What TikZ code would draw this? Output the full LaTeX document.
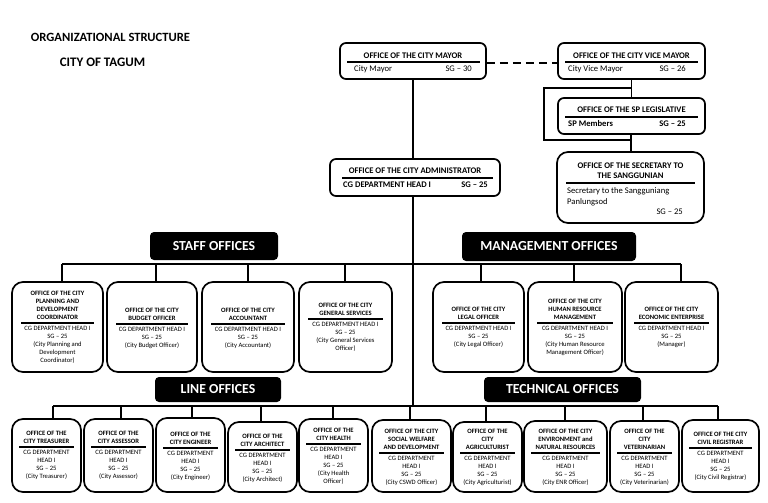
\documentclass[tikz,border=0pt]{standalone}
\usepackage{fontspec}
\setmainfont{Carlito}
\usetikzlibrary{fit}
\newcommand\fsm{\fontsize{6.6}{8}\selectfont}
\newcommand\ftop{\fontsize{8.6}{10.6}\selectfont}
\tikzset{
 obx/.style={draw, line width=1.7pt, rounded corners=11pt, inner sep=0pt},
 tbx/.style={draw, line width=1.7pt, rounded corners=6pt, inner sep=0pt},
 rl/.style={line width=1.1pt},
 ttl/.style={font=\fsm\bfseries, align=center, inner sep=0pt},
 dtl/.style={font=\fsm, align=center, inner sep=0pt},
 lab/.style={fill=black, rounded corners=4pt, inner sep=0pt, text=white, font=\fontsize{13.8}{16}\selectfont\bfseries},
 cn/.style={line width=1.4pt},
 dsh/.style={line width=2.4pt, dash pattern=on 8pt off 5pt},
 toptxt/.style={font=\ftop, inner sep=0pt},
}
% name, x1, y1, x2, y2, rule y, title, details, rule margin
\newcommand\obox[9]{%
 \node[obx, fit={(#2,#3) (#4,#5)}] (#1) {};
 \draw[rl] ({#2+#9},#6) -- ({#4-#9},#6);
 \node[ttl, anchor=south] (#1T) at ({(#2+#4)/2},{#6-3}) {#7};
 \node[dtl, anchor=north] (#1D) at ({(#2+#4)/2},{#6+3}) {#8};
}
\begin{document}
\begin{tikzpicture}[x=1pt,y=-1pt]
\useasboundingbox (0,0) rectangle (768,503);
\fill[white] (0,0) rectangle (768,503);

\node[font=\fontsize{12.6}{14}\selectfont\bfseries, inner sep=0pt] (t1) at (110.5,37) {ORGANIZATIONAL STRUCTURE};
\node[font=\fontsize{13}{14}\selectfont\bfseries, inner sep=0pt] (t2) at (102.5,62) {CITY OF TAGUM};

% ---- top offices
\node[tbx, fit={(340,43) (486,79)}] (mayor) {};
\node[toptxt, font=\ftop\bfseries] (mayorT) at (413,55.5) {OFFICE OF THE CITY MAYOR};
\draw[rl] (347,62) -- (480,62);
\node[toptxt, anchor=west] (mayorL) at (354,69) {City Mayor};
\node[toptxt, anchor=east] (mayorR) at (472,69) {SG – 30};

\node[tbx, fit={(558,43) (705,79)}] (vice) {};
\node[toptxt, font=\ftop\bfseries] (viceT) at (631.5,55.5) {OFFICE OF THE CITY VICE MAYOR};
\draw[rl] (565,62) -- (698,62);
\node[toptxt, anchor=west] (viceL) at (568,69) {City Vice Mayor};
\node[toptxt, anchor=east] (viceR) at (686,69) {SG – 26};

\node[tbx, fit={(558,98) (705,134)}] (sp) {};
\node[toptxt, font=\ftop\bfseries] (spT) at (631.5,109.5) {OFFICE OF THE SP LEGISLATIVE};
\draw[rl] (565,117) -- (698,117);
\node[toptxt, font=\ftop\bfseries, anchor=west] (spL) at (568,124) {SP Members};
\node[toptxt, font=\ftop\bfseries, anchor=east] (spR) at (686,124) {SG – 25};

\node[tbx, rounded corners=11pt, fit={(557,152) (704,223)}] (sec) {};
\node[toptxt, font=\ftop\bfseries, align=center, anchor=south] (secT) at (630.5,179) {OFFICE OF THE SECRETARY TO\\THE SANGGUNIAN};
\draw[rl] (566,183) -- (695,183);
\node[toptxt, align=left, anchor=north west] (secL) at (567,187.5) {Secretary to the Sangguniang\\Panlungsod};
\node[toptxt, anchor=east] (secR) at (683,212) {SG – 25};

\node[tbx, fit={(330,159) (500,196)}] (admin) {};
\node[toptxt, font=\ftop\bfseries] (adminT) at (415,171) {OFFICE OF THE CITY ADMINISTRATOR};
\draw[rl] (342,178) -- (493,178);
\node[toptxt, font=\ftop\bfseries, anchor=west] (adminL) at (343,185) {CG DEPARTMENT HEAD I};
\node[toptxt, font=\ftop\bfseries, anchor=east] (adminR) at (488,185) {SG – 25};

% connectors at the top
\draw[dsh] ([yshift=-2pt]mayor.east) -- ([yshift=-2pt]vice.west);
\coordinate (bt) at (631,88);
\coordinate (bl1) at (544,88);
\coordinate (bl2) at (544,140);
\coordinate (bb) at (631,140);
\draw[cn] (vice.south) -- (vice.south |- bt) -- (bl1) -- (bl2) -- (bb);
\draw[cn] (vice.south |- bt) -- (vice.south |- sp.north);
\draw[cn] (bb |- sp.south) -- (bb |- sec.north);
\coordinate (hb) at (413,406);
\draw[cn] (mayor.south) -- (mayor.south |- admin.north);
\draw[cn] (mayor.south |- admin.south) -- (hb);

% ---- group labels
\node[lab, minimum width=128pt, minimum height=28pt] (staff) at (214,246) {STAFF OFFICES};
\node[lab, minimum width=174pt, minimum height=29pt] (mgmt) at (549,246.5) {MANAGEMENT OFFICES};
\node[lab, minimum width=126pt, minimum height=25pt] (line) at (218,389.5) {LINE OFFICES};
\node[lab, minimum width=157pt, minimum height=25pt] (tech) at (562.5,389.5) {TECHNICAL OFFICES};

% ---- staff and management offices
\obox{s1}{12}{282}{103}{372}{323}{OFFICE OF THE CITY\\PLANNING AND\\DEVELOPMENT\\COORDINATOR}{CG DEPARTMENT HEAD I\\SG – 25\\(City Planning and\\Development\\Coordinator)}{9}
\obox{s2}{107}{282}{197}{372}{324}{OFFICE OF THE CITY\\BUDGET OFFICER}{CG DEPARTMENT HEAD I\\SG – 25\\(City Budget Officer)}{9}
\obox{s3}{202}{282}{294}{372}{324}{OFFICE OF THE CITY\\ACCOUNTANT}{CG DEPARTMENT HEAD I\\SG – 25\\(City Accountant)}{9}
\obox{s4}{299}{282}{392}{372}{319}{OFFICE OF THE CITY\\GENERAL SERVICES}{CG DEPARTMENT HEAD I\\SG – 25\\(City General Services\\Officer)}{9}
\obox{m1}{433}{282}{524}{372}{323}{OFFICE OF THE CITY\\LEGAL OFFICER}{CG DEPARTMENT HEAD I\\SG – 25\\(City Legal Officer)}{9}
\obox{m2}{528}{282}{622}{372}{323}{OFFICE OF THE CITY\\HUMAN RESOURCE\\MANAGEMENT}{CG DEPARTMENT HEAD I\\SG – 25\\(City Human Resource\\Management Officer)}{9}
\obox{m3}{625}{282}{718}{372}{323}{OFFICE OF THE CITY\\ECONOMIC ENTERPRISE}{CG DEPARTMENT HEAD I\\SG – 25\\(Manager)}{9}

\coordinate (hsL) at (62,264);
\coordinate (hsR) at (681,264);
\draw[cn] (hsL) -- (hsR);
\foreach \n/\x in {s1/62,s2/156,s3/248,s4/345,m1/481,m2/574,m3/681}{
  \coordinate (d\n) at (\x,264);
  \draw[cn] (d\n) -- (d\n |- \n.north);
}

% ---- line and technical offices
\obox{b1}{12}{419}{81}{492}{447}{OFFICE OF THE\\CITY TREASURER}{CG DEPARTMENT\\HEAD I\\SG – 25\\(City Treasurer)}{7}
\obox{b2}{84}{419}{153}{492}{447}{OFFICE OF THE\\CITY ASSESSOR}{CG DEPARTMENT\\HEAD I\\SG – 25\\(City Assessor)}{7}
\obox{b3}{156}{418}{225}{492}{448}{OFFICE OF THE\\CITY ENGINEER}{CG DEPARTMENT\\HEAD I\\SG – 25\\(City Engineer)}{7}
\obox{b4}{228}{422}{297}{492}{450}{OFFICE OF THE\\CITY ARCHITECT}{CG DEPARTMENT\\HEAD I\\SG – 25\\(City Architect)}{7}
\obox{b5}{299}{419}{368}{492}{444}{OFFICE OF THE\\CITY HEALTH}{CG DEPARTMENT\\HEAD I\\SG – 25\\(City Health\\Officer)}{7}
\obox{b6}{372}{420}{451}{492}{453}{OFFICE OF THE CITY\\SOCIAL WELFARE\\AND DEVELOPMENT}{CG DEPARTMENT\\HEAD I\\SG – 25\\(City CSWD Officer)}{7}
\obox{b7}{453}{422}{522}{492}{453}{OFFICE OF THE\\CITY\\AGRICULTURIST}{CG DEPARTMENT\\HEAD I\\SG – 25\\(City Agriculturist)}{7}
\obox{b8}{524}{421}{607}{492}{453}{OFFICE OF THE CITY\\ENVIRONMENT and\\NATURAL RESOURCES}{CG DEPARTMENT\\HEAD I\\SG – 25\\(City ENR Officer)}{7}
\obox{b9}{610}{421}{679}{492}{453}{OFFICE OF THE\\CITY\\VETERINARIAN}{CG DEPARTMENT\\HEAD I\\SG – 25\\(City Veterinarian)}{7}
\obox{b10}{682}{420}{759}{492}{448}{OFFICE OF THE CITY\\CIVIL REGISTRAR}{CG DEPARTMENT\\HEAD I\\SG – 25\\(City Civil Registrar)}{7}

\coordinate (hbL) at (53,406);
\coordinate (hbR) at (718,406);
\draw[cn] (hbL) -- (hbR);
\foreach \n/\x in {b1/53,b2/121,b3/192,b4/261,b5/333,b6/410,b7/486,b8/565,b9/643,b10/718}{
  \coordinate (d\n) at (\x,406);
  \draw[cn] (d\n) -- (d\n |- \n.north);
}
\end{tikzpicture}
\end{document}
